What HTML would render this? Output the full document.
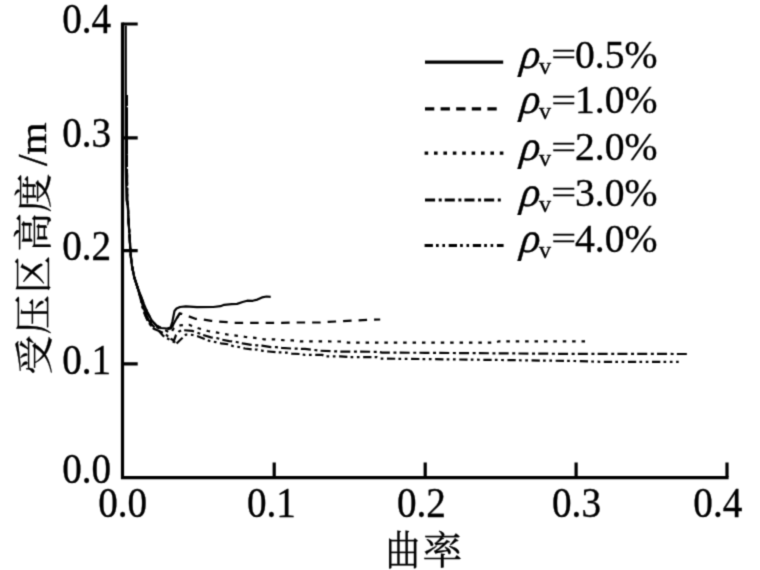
<!DOCTYPE html>
<html><head><meta charset="utf-8"><style>
html,body{margin:0;padding:0;background:#fff;}
svg{display:block;}
.t{font-family:"Liberation Serif","Times New Roman",serif;font-size:40px;fill:#000;stroke:#000;stroke-width:0.35px;}
.k{font-family:"Noto Serif CJK SC",serif;font-size:40px;fill:#000;stroke:#000;stroke-width:0.3px;}
</style></head><body>
<svg width="760" height="570" viewBox="0 0 760 570">
<defs><filter id="b" x="0" y="0" width="760" height="570" filterUnits="userSpaceOnUse" color-interpolation-filters="sRGB"><feConvolveMatrix order="3" kernelMatrix="1 4 1 4 16 4 1 4 1" divisor="36" edgeMode="duplicate"/></filter></defs>
<rect width="760" height="570" fill="#fff"/>
<g filter="url(#b)">
<rect width="760" height="570" fill="#fff"/>
<g stroke="#000" stroke-width="3.2" fill="none" stroke-linecap="butt">
<path d="M122.5,22.4 V479.3 M120.9,477.6 H728.6"/>
<path d="M122.5,24 H137.7 M122.5,137.8 H137.7 M122.5,250.6 H137.7 M122.5,363.9 H137.7"/>
<path d="M274.2,462.6 V477 M425.2,462.6 V477 M576.1,462.6 V477 M727,462.6 V477"/>
</g>
<g stroke="#000" stroke-width="2.2" fill="none" stroke-linejoin="round">
<polyline points="125.7,25.5 125.8,166.0 126.5,200.0 127.9,206.0 128.5,220.0 129.5,235.0 130.4,250.0 130.9,257.0 132.0,266.0 134.2,277.0 137.4,287.0 140.8,296.0 143.8,304.0 147.2,312.0 151.5,320.0 156.3,325.5 161.0,328.0 167.0,328.5 170.5,327.5 172.3,322.0 173.5,316.0 174.5,311.0 176.5,308.5 180.0,307.0 185.8,306.4 197.0,307.2 213.4,307.0 220.5,306.2 224.2,304.8 231.6,304.2 237.1,303.9 242.6,302.0 247.2,300.7 252.8,300.8 257.4,299.6 262.0,297.4 266.6,296.5 270.7,296.8"/>
<polyline points="134.2,277.0 137.4,287.0 140.4,296.8 142.7,305.5 145.6,313.5 149.4,321.5 154.5,327.5"/>
<polyline points="126.9,95.0 126.9,166.0 127.2,200.0 127.9,206.0 128.5,220.0 129.5,235.0 130.4,250.0 130.9,257.0 132.0,266.0 134.2,277.0 137.4,287.0 140.8,296.0 143.8,304.0 147.2,312.0 151.5,320.0 156.3,325.5 161.0,328.0 166.0,329.5 171.0,328.5 174.6,322.0 179.8,313.2 187.8,316.0 195.3,318.8 203.2,319.6 211.4,320.8 218.5,321.6 227.2,322.2 234.6,322.8 250.0,322.9 265.9,322.9 281.5,322.8 296.3,322.5 320.4,322.5 327.8,321.9 336.0,321.5 351.7,320.6 367.3,319.9 380.2,319.5" stroke-dasharray="8.5 7"/>
<polyline points="172.2,326.5 176,319.5 179.8,313.2"/>
<polyline points="126.9,95.0 126.9,166.0 127.2,200.0 127.9,206.0 128.5,220.0 129.5,235.0 130.4,250.0 130.9,257.0 132.0,266.0 134.2,277.0 137.4,287.0 140.6,296.5 143.2,305.0 146.4,313.0 150.6,321.0 155.5,326.5 160.5,329.0 166.0,330.5 170.5,333.5 174.0,328.0 180.1,325.4 189.0,324.8 198.4,328.3 207.9,331.0 217.4,332.6 226.8,334.4 236.0,335.6 245.7,337.0 255.0,337.9 264.1,339.3 273.8,339.3 283.0,340.2 292.7,340.4 300.0,341.4 340.0,341.5 348.0,342.6 495.0,342.6 499.0,341.3 586.0,341.3" stroke-dasharray="3.5 5.9" stroke-dashoffset="-2.8"/>
<polyline points="126.9,95.0 126.9,166.0 127.2,200.0 127.9,206.0 128.5,220.0 129.5,235.0 130.4,250.0 130.9,257.0 132.0,266.0 134.2,277.0 137.4,287.0 140.2,297.0 142.2,306.0 144.8,314.0 148.3,322.0 153.5,328.5 159.0,331.0 165.4,334.0 170.1,338.5 174.0,340.5 176.0,335.0 179.0,331.5 182.2,330.1 192.2,330.9 197.2,332.6 203.2,335.0 211.0,337.4 217.4,338.2 222.0,339.7 229.2,341.1 236.5,342.0 242.5,343.4 251.2,344.8 256.3,345.3 261.8,345.7 271.0,347.1 276.1,347.2 281.6,347.8 290.9,348.5 305.0,348.9 320.0,350.7 340.0,351.6 378.0,351.8 382.0,352.6 425.0,352.8 560.0,353.8 687.2,354.0" stroke-dasharray="10 3.6 3 3.2" stroke-dashoffset="-0.7"/>
<polyline points="126.9,95.0 126.9,166.0 127.2,200.0 127.9,206.0 128.5,220.0 129.5,235.0 130.4,250.0 130.9,257.0 132.0,266.0 134.2,277.0 137.4,287.0 140.2,297.0 142.2,306.0 144.8,314.0 148.3,322.0 153.5,328.5 159.0,331.0 163.3,335.9 170.1,340.0 175.0,342.5 175.5,344.5 181.2,339.0 185.9,334.6 191.7,334.8 197.6,336.2 204.7,339.0 209.5,340.9 215.8,342.1 220.9,343.3 228.4,344.3 233.3,346.2 239.7,347.1 244.8,348.5 252.2,349.4 257.2,349.6 262.8,350.8 268.7,351.5 275.7,352.2 280.3,352.4 286.7,352.6 291.8,353.6 300.0,354.0 305.0,354.9 322.0,354.9 326.0,356.3 340.0,356.3 350.0,357.2 377.0,357.2 380.0,358.6 420.0,359.0 500.0,360.0 575.0,361.0 600.0,361.8 678.7,361.8" stroke-dasharray="8.3 3.2 2.7 3.6 2.7 3.6" stroke-dashoffset="-2.5"/>
</g>
<g stroke="#000" stroke-width="3.2" fill="none">
<path d="M425,62.1 H503.2"/>
<path d="M425,108.9 H496.7" stroke-dasharray="9.3 6.3"/>
<path d="M424.6,153.2 H504" stroke-dasharray="3.6 5.8"/>
<path d="M425,200 H501" stroke-dasharray="10.1 3.6 3 3"/>
<path d="M424.6,245.5 H503.6" stroke-dasharray="8.3 3.1 2.7 3.7 2.6 3.7"/>
</g>
<text class="t" transform="translate(98.20,516.70) scale(0.98,1.045)">0.0</text>
<text class="t" transform="translate(246.95,516.70) scale(0.98,1.045)">0.1</text>
<text class="t" transform="translate(396.95,516.70) scale(0.98,1.045)">0.2</text>
<text class="t" transform="translate(552.00,516.70) scale(0.98,1.045)">0.3</text>
<text class="t" transform="translate(693.30,516.70) scale(0.98,1.045)">0.4</text>
<text class="t" transform="translate(62.20,33.40) scale(0.98,1.045)">0.4</text>
<text class="t" transform="translate(62.20,147.00) scale(0.98,1.045)">0.3</text>
<text class="t" transform="translate(62.20,259.60) scale(0.98,1.045)">0.2</text>
<text class="t" transform="translate(62.20,374.20) scale(0.98,1.045)">0.1</text>
<text class="t" transform="translate(62.20,483.00) scale(0.98,1.045)">0.0</text>
<text class="t" font-style="italic" transform="translate(519.6,67.6) skewX(-6) scale(1.03,1.05)">ρ</text><text class="t" x="539" y="73.6" style="font-size:24px">v</text><text class="t" transform="translate(551.2,65.0) scale(1.107,0.8)">=</text><text class="t" transform="translate(575.00,67.60) scale(0.99,1.02)">0.5%</text>
<text class="t" font-style="italic" transform="translate(519.6,113.3) skewX(-6) scale(1.03,1.05)">ρ</text><text class="t" x="539" y="119.3" style="font-size:24px">v</text><text class="t" transform="translate(551.2,110.7) scale(1.107,0.8)">=</text><text class="t" transform="translate(575.00,113.30) scale(0.99,1.02)">1.0%</text>
<text class="t" font-style="italic" transform="translate(519.6,160.2) skewX(-6) scale(1.03,1.05)">ρ</text><text class="t" x="539" y="166.2" style="font-size:24px">v</text><text class="t" transform="translate(551.2,157.6) scale(1.107,0.8)">=</text><text class="t" transform="translate(575.00,160.20) scale(0.99,1.02)">2.0%</text>
<text class="t" font-style="italic" transform="translate(519.6,205.9) skewX(-6) scale(1.03,1.05)">ρ</text><text class="t" x="539" y="211.9" style="font-size:24px">v</text><text class="t" transform="translate(551.2,203.3) scale(1.107,0.8)">=</text><text class="t" transform="translate(575.00,205.90) scale(0.99,1.02)">3.0%</text>
<text class="t" font-style="italic" transform="translate(519.6,251.9) skewX(-6) scale(1.03,1.05)">ρ</text><text class="t" x="539" y="257.9" style="font-size:24px">v</text><text class="t" transform="translate(551.2,249.3) scale(1.107,0.8)">=</text><text class="t" transform="translate(575.00,251.90) scale(0.99,1.02)">4.0%</text>
<text class="k" transform="translate(47.58,374.87) rotate(-90) scale(0.986,0.955)">受</text>
<text class="k" transform="translate(46.89,334.57) rotate(-90) scale(0.986,0.969)">压</text>
<text class="k" transform="translate(46.84,292.93) rotate(-90) scale(0.932,0.954)">区</text>
<text class="k" transform="translate(46.69,251.64) rotate(-90) scale(0.972,0.953)">高</text>
<text class="k" transform="translate(47.21,212.55) rotate(-90) scale(0.975,0.947)">度</text>
<text class="t" transform="translate(46.60,165.90) rotate(-90) scale(1.036,1.046)">/</text>
<text class="t" transform="translate(45.70,154.64) rotate(-90) scale(1.040,0.968)">m</text>
<text class="k" transform="translate(385.53,565.44) scale(0.867,1.019)">曲</text>
<text class="k" transform="translate(422.51,564.49) scale(0.994,0.976)">率</text>
</g></svg></body></html>
